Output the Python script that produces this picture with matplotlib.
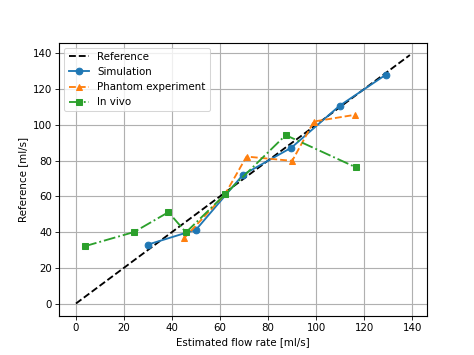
import matplotlib
matplotlib.use("Agg")
import matplotlib.pyplot as plt

# reference line y = x
ref_x = [0, 139]
ref_y = [0, 139]

sim_x = [30, 50, 69.5, 89.7, 109.7, 129]
sim_y = [33, 41.3, 72, 87.2, 110.6, 128]

phantom_x = [45, 62, 71, 90, 99, 116.3]
phantom_y = [36.5, 61, 82.2, 79.8, 101.8, 105.6]

vivo_x = [3.8, 24.2, 38.5, 45.8, 62, 87.3, 116.5]
vivo_y = [32.1, 40, 51.1, 39.8, 61, 94.2, 76.2]

plt.rcParams['lines.linewidth'] = 1.8
plt.rcParams['lines.markersize'] = 6.5
plt.rcParams['grid.linewidth'] = 1.1
plt.rcParams['axes.linewidth'] = 1.1

fig, ax = plt.subplots(figsize=(474 / 74, 355 / 74), dpi=74)

ax.plot(ref_x, ref_y, 'k--', label='Reference')
ax.plot(sim_x, sim_y, '-o', color='C0', label='Simulation')
ax.plot(phantom_x, phantom_y, '--^', color='C1', label='Phantom experiment')
ax.plot(vivo_x, vivo_y, '-.s', color='C2', label='In vivo')

ax.set_xlabel('Estimated flow rate [ml/s]')
ax.set_ylabel('Reference [ml/s]')
ax.grid(True)
ax.legend(loc='upper left')

plt.savefig('out.png', dpi=74)
